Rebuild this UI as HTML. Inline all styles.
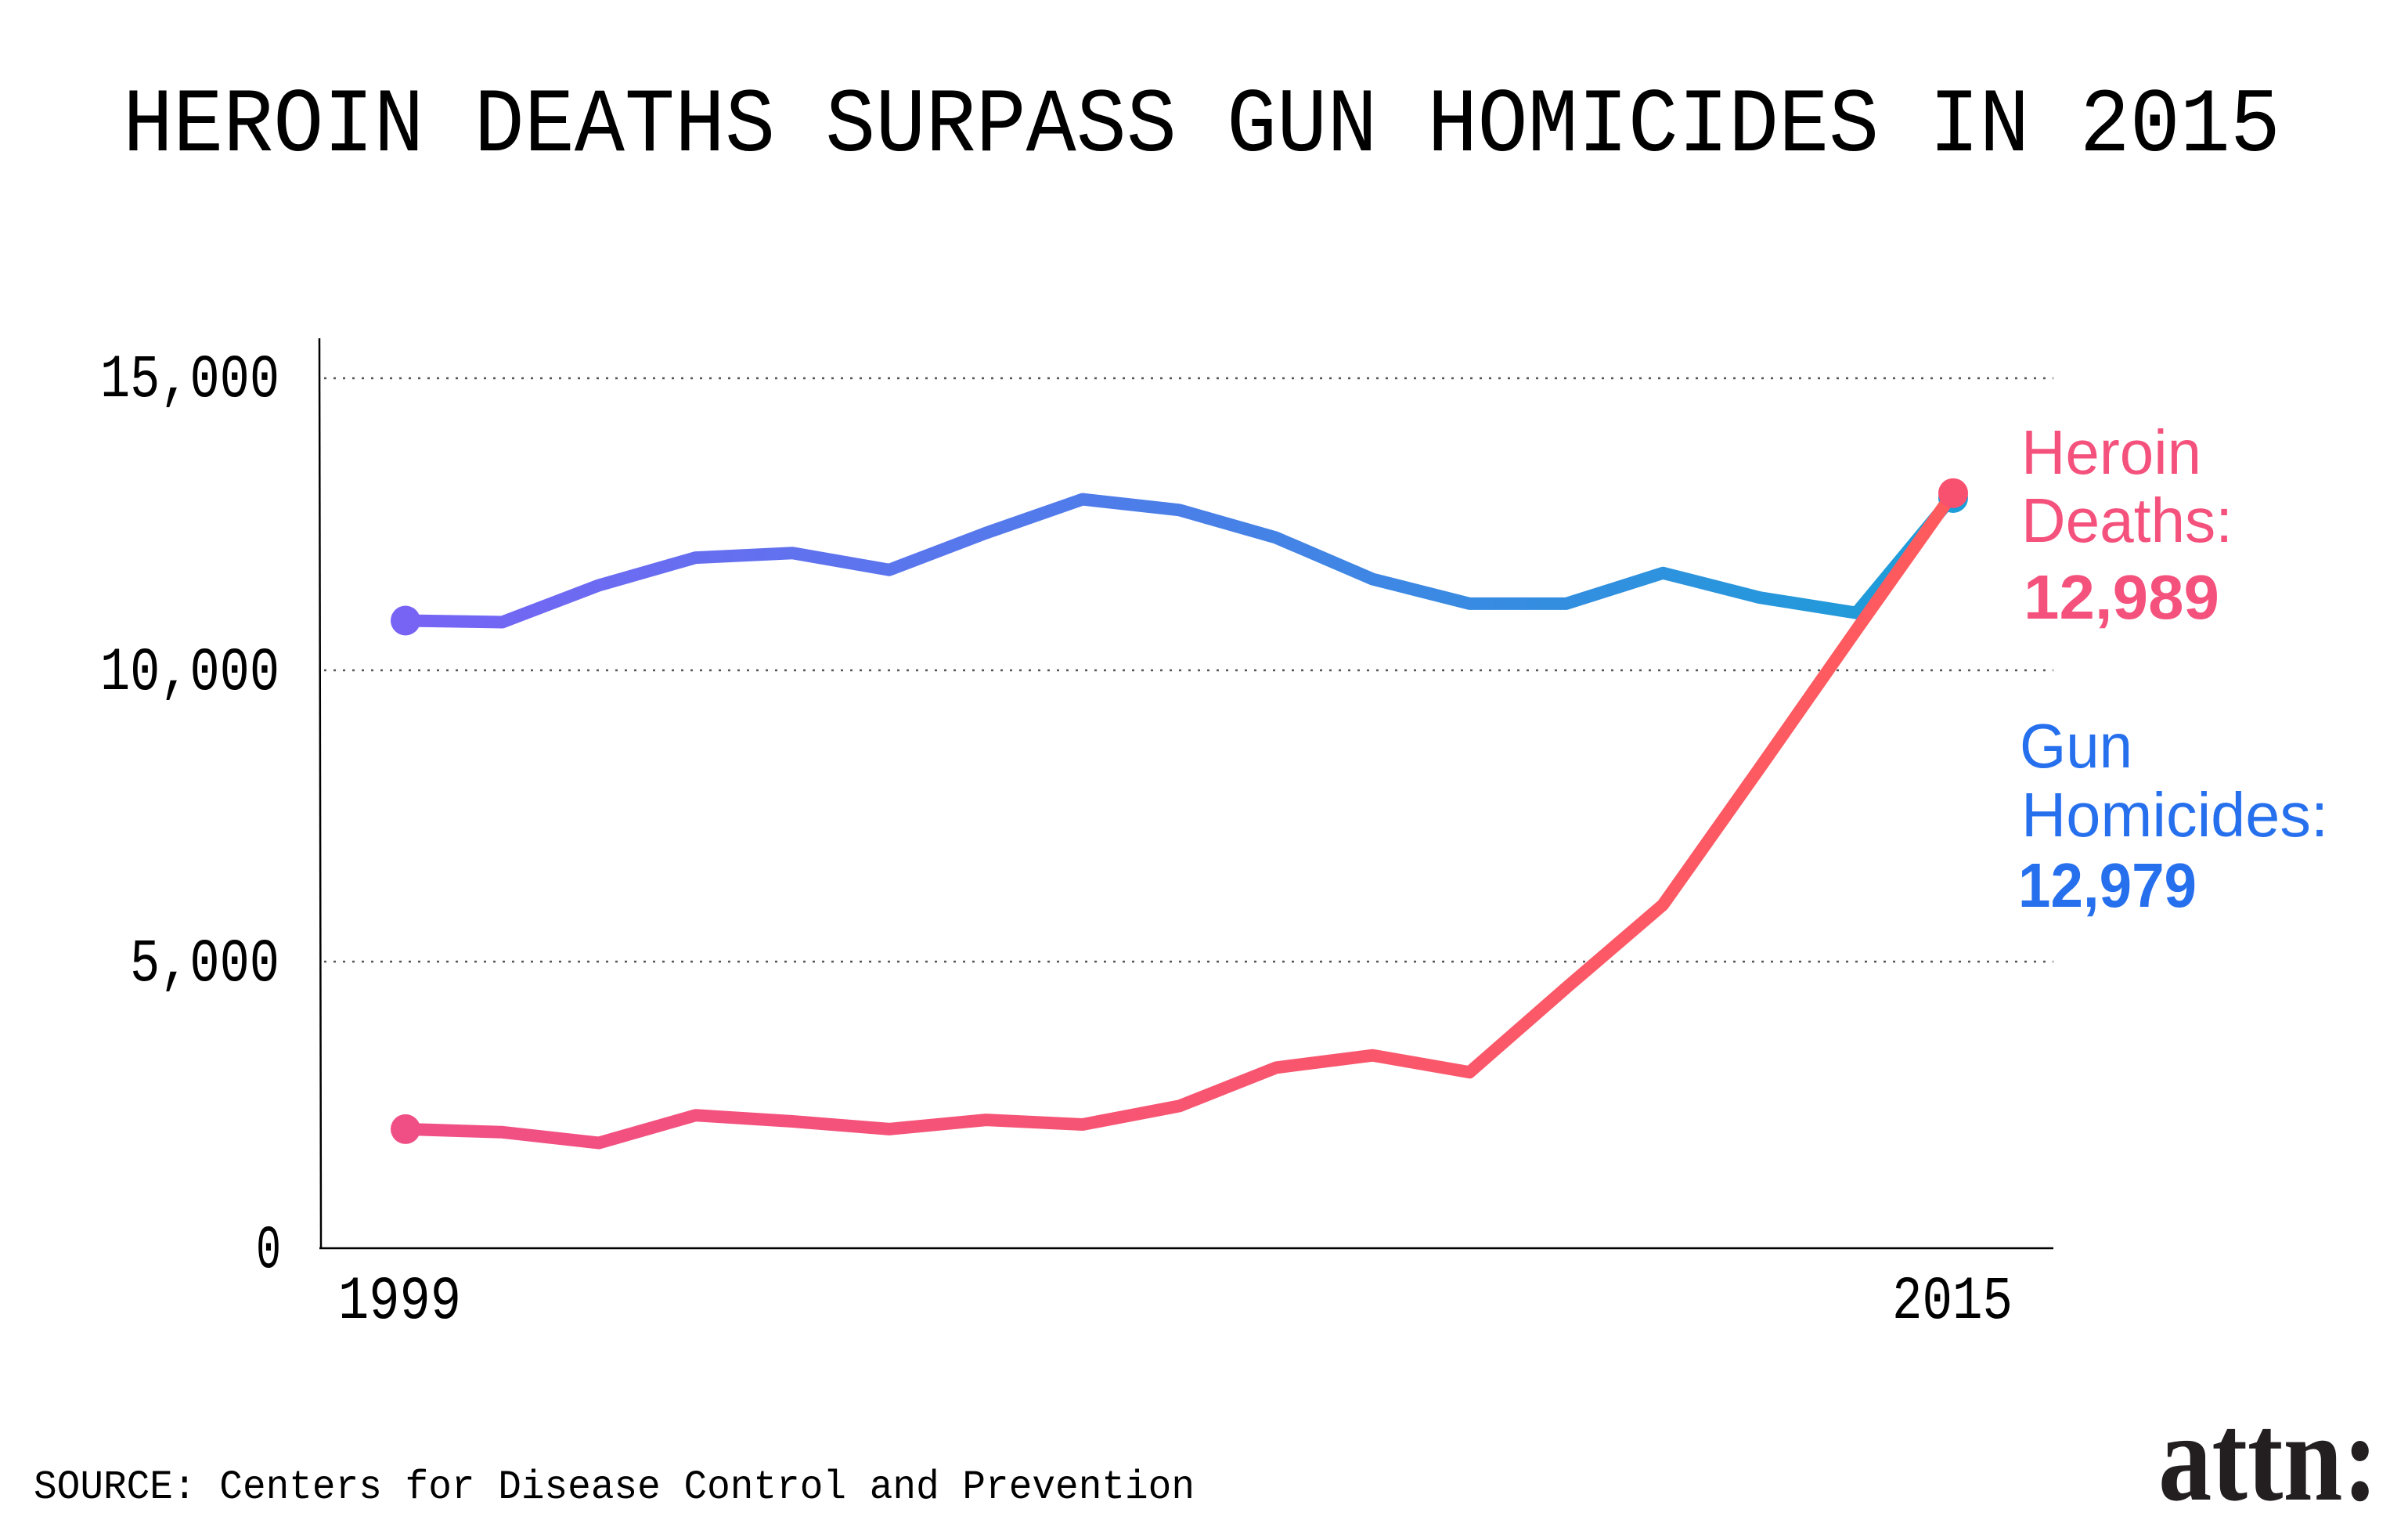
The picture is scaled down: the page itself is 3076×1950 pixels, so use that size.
<!DOCTYPE html>
<html><head><meta charset="utf-8"><style>html,body{margin:0;padding:0;background:#fff}svg{display:block}</style></head>
<body>
<svg width="3076" height="1950" viewBox="0 0 3076 1950" xmlns="http://www.w3.org/2000/svg">
<defs>
<linearGradient id="gg" x1="518" y1="0" x2="2495" y2="0" gradientUnits="userSpaceOnUse">
<stop offset="0" stop-color="#7764f5"/><stop offset="0.5" stop-color="#4a7fe8"/><stop offset="1" stop-color="#1c9ed8"/></linearGradient>
<linearGradient id="hg" x1="518" y1="0" x2="2495" y2="0" gradientUnits="userSpaceOnUse">
<stop offset="0" stop-color="#f04f86"/><stop offset="1" stop-color="#ff5b5d"/></linearGradient>
</defs>
<text x="157" y="192" font-family="Liberation Mono, monospace" font-size="116" fill="#000" textLength="2756" lengthAdjust="spacingAndGlyphs">HEROIN DEATHS SURPASS GUN HOMICIDES IN 2015</text>
<g stroke="#555" stroke-width="2.5" stroke-dasharray="3,9">
<line x1="414" y1="483" x2="2623" y2="483"/>
<line x1="414" y1="856" x2="2623" y2="856"/>
<line x1="414" y1="1228" x2="2623" y2="1228"/>
</g>
<line x1="408" y1="432" x2="410" y2="1594" stroke="#000" stroke-width="2.5"/>
<line x1="408" y1="1594" x2="2623" y2="1594" stroke="#000" stroke-width="2.5"/>
<g font-family="Liberation Mono, monospace" font-size="78" fill="#000">
<text x="128" y="506" textLength="229" lengthAdjust="spacingAndGlyphs">15,000</text>
<text x="128" y="880" textLength="229" lengthAdjust="spacingAndGlyphs">10,000</text>
<text x="166" y="1252" textLength="191" lengthAdjust="spacingAndGlyphs">5,000</text>
<text x="327" y="1618" textLength="32" lengthAdjust="spacingAndGlyphs">0</text>
<text x="432" y="1683" textLength="157" lengthAdjust="spacingAndGlyphs">1999</text>
<text x="2417" y="1683" textLength="154" lengthAdjust="spacingAndGlyphs">2015</text>
</g>
<polyline fill="none" stroke="url(#gg)" stroke-width="16" stroke-linejoin="round" points="518,792.5 641.6,794.5 765.1,747.4 888.7,712.1 1012.2,706.2 1135.8,727.8 1259.4,680.7 1382.9,637.6 1506.5,651.3 1630,686.6 1753.6,739.6 1877.2,770.9 2000.7,770.9 2124.3,731.7 2247.8,763.1 2371.4,782.7 2495,633.6"/>
<circle cx="518" cy="792.5" r="19" fill="#7764f5"/>
<circle cx="2495" cy="636" r="19" fill="#1c9ed8"/>
<polyline fill="none" stroke="url(#hg)" stroke-width="16" stroke-linejoin="round" points="518,1441.9 641.6,1445.8 765.1,1459.5 888.7,1424.2 1012.2,1432 1135.8,1441.9 1259.4,1430.1 1382.9,1436 1506.5,1412.4 1630,1363.4 1753.6,1347.7 1877.2,1369.3 2000.7,1261.4 2124.3,1155.4 2247.8,980.9 2371.4,804.3 2495,629.7"/>
<circle cx="518" cy="1441.9" r="19" fill="#f04f86"/>
<circle cx="2495" cy="629.7" r="19" fill="#f8506f"/>
<g font-family="Liberation Sans, sans-serif" font-size="80">
<text x="2582" y="605" fill="#f4527d" textLength="230" lengthAdjust="spacingAndGlyphs">Heroin</text>
<text x="2582" y="692" fill="#f4527d" textLength="270" lengthAdjust="spacingAndGlyphs">Deaths:</text>
<text x="2585" y="790" fill="#f4527d" font-weight="bold" textLength="250" lengthAdjust="spacingAndGlyphs">12,989</text>
<text x="2580" y="980" fill="#2670ee" textLength="144" lengthAdjust="spacingAndGlyphs">Gun</text>
<text x="2582" y="1068" fill="#2670ee" textLength="392" lengthAdjust="spacingAndGlyphs">Homicides:</text>
<text x="2578" y="1158" fill="#2670ee" font-weight="bold" textLength="228" lengthAdjust="spacingAndGlyphs">12,979</text>
</g>
<text x="43" y="1913" font-family="Liberation Mono, monospace" font-size="52" fill="#000" textLength="1483" lengthAdjust="spacingAndGlyphs">SOURCE: Centers for Disease Control and Prevention</text>
<text x="2757" y="1915" font-family="Liberation Serif, serif" font-weight="bold" font-size="160" fill="#231f20" textLength="281" lengthAdjust="spacingAndGlyphs">attn:</text>
</svg>
</body></html>
